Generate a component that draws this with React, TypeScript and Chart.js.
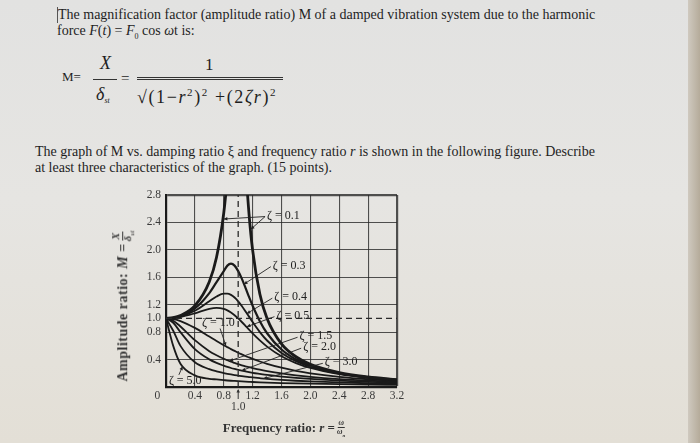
import { useEffect, useRef } from "react";
import Chart from "chart.js/auto";

// frequency ratio r = w / wn (sample points)
const ratioR = [0, 0.1, 0.2, 0.4, 0.6, 0.7, 0.8, 0.85, 0.9, 0.95, 1.0, 1.05, 1.1, 1.15, 1.2, 1.3, 1.4, 1.6, 1.8, 2.0, 2.4, 2.8, 3.2];

// amplitude ratio M for each damping ratio
const mZeta01 = [1, 1.01, 1.041, 1.185, 1.536, 1.891, 2.538, 3.073, 3.821, 4.68, 5.0, 4.28, 3.288, 2.525, 1.995, 1.356, 1.0, 0.628, 0.441, 0.33, 0.209, 0.146, 0.108];
const mZeta03 = [1, 1.008, 1.034, 1.145, 1.37, 1.53, 1.69, 1.77, 1.8, 1.77, 1.69, 1.58, 1.45, 1.313, 1.185, 0.96, 0.784, 0.546, 0.402, 0.31, 0.201, 0.142, 0.106];
const mZeta04 = [1, 1.007, 1.028, 1.112, 1.25, 1.32, 1.362, 1.362, 1.343, 1.305, 1.25, 1.182, 1.105, 1.026, 0.947, 0.801, 0.678, 0.496, 0.376, 0.294, 0.195, 0.139, 0.104];
const mZeta05 = [1, 1.005, 1.02, 1.075, 1.14, 1.155, 1.14, 1.118, 1.087, 1.047, 1.0, 0.948, 0.893, 0.837, 0.782, 0.679, 0.589, 0.448, 0.348, 0.277, 0.188, 0.135, 0.102];
const mZeta10 = [1, 0.99, 0.962, 0.862, 0.735, 0.671, 0.61, 0.581, 0.552, 0.526, 0.5, 0.476, 0.452, 0.431, 0.41, 0.372, 0.338, 0.281, 0.236, 0.2, 0.148, 0.113, 0.089];
const mZeta15 = [1, 0.967, 0.883, 0.683, 0.523, 0.463, 0.412, 0.39, 0.369, 0.351, 0.333, 0.317, 0.302, 0.289, 0.276, 0.252, 0.232, 0.198, 0.171, 0.149, 0.116, 0.092, 0.075];
const mZeta20 = [1, 0.937, 0.8, 0.553, 0.403, 0.351, 0.311, 0.293, 0.277, 0.263, 0.25, 0.238, 0.227, 0.217, 0.207, 0.191, 0.176, 0.152, 0.133, 0.117, 0.093, 0.076, 0.063];
const mZeta30 = [1, 0.82, 0.6, 0.36, 0.26, 0.228, 0.204, 0.193, 0.183, 0.174, 0.166, 0.158, 0.151, 0.145, 0.139, 0.128, 0.118, 0.103, 0.091, 0.081, 0.066, 0.055, 0.047];
const mZeta50 = [1, 0.6, 0.34, 0.17, 0.12, 0.11, 0.1, 0.095, 0.091, 0.088, 0.085, 0.082, 0.079, 0.076, 0.073, 0.068, 0.064, 0.057, 0.052, 0.048, 0.041, 0.035, 0.03];

// dashed reference lines: M = 1 and r = 1
const unityR = [0, 3.2];
const unityM = [1, 1];
const resonanceR = [1, 1];
const resonanceM = [0, 2.8];

const xTickValues = [0, 0.4, 0.8, 1.2, 1.6, 2.0, 2.4, 2.8, 3.2];
const yTickValues = [0.4, 0.8, 1.0, 1.2, 1.6, 2.0, 2.4, 2.8];

const curves = [
  { zeta: "0.1", m: mZeta01, width: 2.8 },
  { zeta: "0.3", m: mZeta03, width: 2.2 },
  { zeta: "0.4", m: mZeta04, width: 1.9 },
  { zeta: "0.5", m: mZeta05, width: 1.8 },
  { zeta: "1.0", m: mZeta10, width: 1.8 },
  { zeta: "1.5", m: mZeta15, width: 1.8 },
  { zeta: "2.0", m: mZeta20, width: 1.8 },
  { zeta: "3.0", m: mZeta30, width: 1.8 },
  { zeta: "5.0", m: mZeta50, width: 1.8 },
];

// curve labels: text start (r, M) and the points the leader lines run to
const curveLabels: { text: string; at: [number, number]; to: [number, number][] }[] = [
  { text: "ζ = 0.1", at: [1.4, 2.5], to: [[0.8, 2.45], [1.175, 2.3]] },
  { text: "ζ = 0.3", at: [1.48, 1.77], to: [[1.08, 1.5]] },
  { text: "ζ = 0.4", at: [1.5, 1.31], to: [[1.12, 1.07]] },
  { text: "ζ = 0.5", at: [1.53, 1.04], to: [[1.12, 0.88]] },
  { text: "ζ = 1.0", at: [0.5, 0.94], to: [[0.83, 0.6]] },
  { text: "ζ = 1.5", at: [1.85, 0.74], to: [[0.88, 0.38]] },
  { text: "ζ = 2.0", at: [1.9, 0.58], to: [[1.05, 0.24]] },
  { text: "ζ = 3.0", at: [2.2, 0.36], to: [[1.35, 0.123]] },
  { text: "ζ = 5.0", at: [0.04, 0.09], to: [[0.23, 0.3]] },
];

const SERIF = "'Liberation Serif', 'Times New Roman', serif";
const INK = "#1a1a1a";

function arrowHead(ctx: CanvasRenderingContext2D, x0: number, y0: number, x1: number, y1: number) {
  const a = Math.atan2(y1 - y0, x1 - x0);
  const s = 4;
  ctx.beginPath();
  ctx.moveTo(x1, y1);
  ctx.lineTo(x1 - s * Math.cos(a - 0.45), y1 - s * Math.sin(a - 0.45));
  ctx.lineTo(x1 - s * Math.cos(a + 0.45), y1 - s * Math.sin(a + 0.45));
  ctx.closePath();
  ctx.fill();
}

const labelPlugin = {
  id: "curveLabels",
  afterDatasetsDraw(chart: Chart) {
    const { ctx } = chart;
    const xs = chart.scales.x;
    const ys = chart.scales.y;
    ctx.save();
    ctx.font = `12px ${SERIF}`;
    ctx.textBaseline = "middle";
    ctx.fillStyle = "#222";
    ctx.strokeStyle = "#222";
    ctx.lineWidth = 0.9;
    curveLabels.forEach((l) => {
      const px = xs.getPixelForValue(l.at[0]);
      const py = ys.getPixelForValue(l.at[1]);
      ctx.fillText(l.text, px, py);
      l.to.forEach((t) => {
        const tx = xs.getPixelForValue(t[0]);
        const ty = ys.getPixelForValue(t[1]);
        const sx = l.text === "ζ = 5.0" ? px + 10 : l.text === "ζ = 1.0" ? px + 18 : px - 2;
        const sy = l.text === "ζ = 5.0" ? py - 6 : l.text === "ζ = 1.0" ? py + 6 : py + 1;
        ctx.beginPath();
        ctx.moveTo(sx, sy);
        ctx.lineTo(tx, ty);
        ctx.stroke();
        arrowHead(ctx, sx, sy, tx, ty);
      });
    });

    // r = 1.0 marker below the axis
    const rx = xs.getPixelForValue(1.0);
    const top = ys.bottom;
    ctx.lineWidth = 1;
    ctx.strokeStyle = "#333";
    ctx.fillStyle = "#333";
    ctx.beginPath();
    ctx.moveTo(rx, top + 12);
    ctx.lineTo(rx, top + 3);
    ctx.stroke();
    arrowHead(ctx, rx, top + 12, rx, top + 2);
    ctx.font = `11.5px ${SERIF}`;
    ctx.fillStyle = "#3a3a3a";
    ctx.textAlign = "center";
    ctx.fillText("1.0", rx, top + 20);
    ctx.restore();
  },
};

function MagnificationChart() {
  const chartRef = useRef<HTMLCanvasElement>(null);
  const chartInstance = useRef<Chart | null>(null);

  useEffect(() => {
    if (!chartRef.current) return;
    if (chartInstance.current) chartInstance.current.destroy();

    const curveSets = curves.map((c) => ({
      label: "ζ = " + c.zeta,
      data: ratioR.map((r, i) => ({ x: r, y: c.m[i] })),
      borderColor: INK,
      borderWidth: c.width,
      pointRadius: 0,
      cubicInterpolationMode: "monotone" as const,
      fill: false,
    }));

    const refSets = [
      { r: unityR, m: unityM },
      { r: resonanceR, m: resonanceM },
    ].map((d) => ({
      label: "ref",
      data: d.r.map((r, i) => ({ x: r, y: d.m[i] })),
      borderColor: "#2a2a2a",
      borderWidth: 1.3,
      borderDash: [6, 4],
      pointRadius: 0,
      fill: false,
    }));

    chartInstance.current = new Chart(chartRef.current, {
      type: "line",
      data: { datasets: [...refSets, ...curveSets] },
      options: {
        animation: false,
        responsive: true,
        maintainAspectRatio: false,
        layout: { padding: { top: 15, right: 23, left: 0, bottom: 0 } },
        plugins: {
          legend: { display: false },
          tooltip: { enabled: false },
        },
        scales: {
          x: {
            type: "linear",
            min: 0,
            max: 3.2,
            afterBuildTicks: (s: any) => {
              s.ticks = xTickValues.map((v) => ({ value: v }));
            },
            afterFit: (s: any) => {
              s.height = 56;
            },
            ticks: {
              autoSkip: false,
              maxRotation: 0,
              padding: 2,
              color: "#3a3a3a",
              font: { family: SERIF, size: 11.5 },
              // the origin label sits a little left of the corner in the figure
              callback: (v: any) => (Number(v) === 0 ? "0\u2003\u2002" : Number(v).toFixed(1)),
            },
            grid: {
              drawTicks: false,
              color: "rgba(40,40,40,0.8)",
              lineWidth: (c: any) => (c.tick && c.tick.value === 3.2 ? 2.2 : 1.1),
            },
            border: { color: INK, width: 2.2 },
          },
          y: {
            type: "linear",
            min: 0,
            max: 2.8,
            afterBuildTicks: (s: any) => {
              s.ticks = yTickValues.map((v) => ({ value: v }));
            },
            afterFit: (s: any) => {
              s.width = 66;
            },
            ticks: {
              autoSkip: false,
              padding: 5,
              color: "#3a3a3a",
              font: { family: SERIF, size: 11.5 },
              callback: (v: any) => Number(v).toFixed(1),
            },
            grid: {
              drawTicks: false,
              color: (c: any) => (c.tick && c.tick.value === 1 ? "rgba(0,0,0,0)" : "rgba(40,40,40,0.8)"),
              lineWidth: (c: any) => (c.tick && c.tick.value === 2.8 ? 2.2 : 1.1),
            },
            border: { color: INK, width: 2.2 },
          },
        },
      },
      plugins: [labelPlugin],
    });

    return () => {
      if (chartInstance.current) {
        chartInstance.current.destroy();
        chartInstance.current = null;
      }
    };
  }, []);

  return (
    <div style={{ position: "absolute", left: 100, top: 180, width: 320, height: 263 }}>
      <canvas ref={chartRef}></canvas>
    </div>
  );
}

function Frac({ top, bottom, size }: { top: any; bottom: any; size: number }) {
  return (
    <span style={{ display: "inline-flex", flexDirection: "column", alignItems: "center", fontSize: size, lineHeight: 1, verticalAlign: "middle", margin: "0 2px" }}>
      <span style={{ borderBottom: "1px solid #333", padding: "0 1px" }}>{top}</span>
      <span>{bottom}</span>
    </span>
  );
}

const abs = (left: number, top: number, extra: any = {}) => ({
  position: "absolute" as const,
  left,
  top,
  whiteSpace: "nowrap" as const,
  ...extra,
});

const sup = { fontSize: 11, position: "relative" as const, top: -7 };

export default function App() {
  return (
    <div
      style={{
        position: "absolute",
        left: 0,
        top: 0,
        width: 700,
        height: 443,
        overflow: "hidden",
        background: "linear-gradient(180deg, #e2e2e1 0%, #e6e5e2 45%, #e3dfd6 100%)",
        fontFamily: SERIF,
        color: "#1e1e1e",
      }}
    >
      <div style={abs(688, 0, { width: 12, height: 443, background: "linear-gradient(90deg, #cfc9bf, #b5ab9a)" })} />
      <div style={abs(57, 7, { width: 1, height: 16, background: "#555" })} />

      <div style={abs(58, 7, { fontSize: 14, lineHeight: "16px" })}>
        The magnification factor (amplitude ratio) M of a damped vibration system due to the harmonic
      </div>
      <div style={abs(57, 23, { fontSize: 14, lineHeight: "16px" })}>
        force <i>F</i>(<i>t</i>) = <i>F</i>
        <sub style={{ fontSize: 8 }}>0</sub> cos <i>ω</i>t is:
      </div>

      {/* formula */}
      <div style={abs(62, 69, { fontSize: 13, lineHeight: "16px" })}>M=</div>
      <div style={abs(100, 53, { fontSize: 18, lineHeight: "20px", fontStyle: "italic" })}>X</div>
      <div style={abs(93, 79, { width: 24, height: 1, background: "#333" })} />
      <div style={abs(96, 84, { fontSize: 18, lineHeight: "20px", fontStyle: "italic" })}>
        δ<span style={{ fontSize: 8, position: "relative", top: 3 }}>st</span>
      </div>
      <div style={abs(121, 69, { fontSize: 15, lineHeight: "18px" })}>=</div>
      <div style={abs(205, 55, { fontSize: 17, lineHeight: "20px" })}>1</div>
      <div style={abs(137, 77, { width: 146, height: 1, borderTop: "1px solid #333", borderBottom: "1px solid #333" })} />
      <div style={abs(137, 86, { fontSize: 18, lineHeight: "22px", letterSpacing: "1.6px" })}>
        √(1−<i>r</i>
        <span style={sup}>2</span>)<span style={sup}>2</span> +(2<i>ζr</i>)<span style={sup}>2</span>
      </div>

      <div style={abs(35, 144, { fontSize: 14, lineHeight: "16px" })}>
        The graph of M vs. damping ratio ξ and frequency ratio <i>r</i> is shown in the following figure. Describe
      </div>
      <div style={abs(35, 160, { fontSize: 14, lineHeight: "16px" })}>at least three characteristics of the graph. (15 points).</div>

      <MagnificationChart />

      {/* axis titles */}
      <div
        style={abs(123, 305, {
          transform: "translate(-50%, -50%) rotate(-90deg)",
          fontSize: 14,
          letterSpacing: "0.5px",
          fontWeight: "bold",
          color: "#333",
          display: "flex",
          alignItems: "center",
        })}
      >
        Amplitude ratio:&nbsp;<i>M</i>&nbsp;=
        <Frac size={10.5} top={<i>X</i>} bottom={<i>δ<sub style={{ fontSize: 6 }}>st</sub></i>} />
      </div>
      <div
        style={abs(285, 428, {
          transform: "translate(-50%, -50%)",
          fontSize: 13,
          fontWeight: "bold",
          color: "#333",
          display: "flex",
          alignItems: "center",
        })}
      >
        Frequency ratio:&nbsp;<i>r</i>&nbsp;=
        <Frac size={7.5} top={<i>ω</i>} bottom={<i>ω<sub style={{ fontSize: 5 }}>n</sub></i>} />
      </div>
    </div>
  );
}
